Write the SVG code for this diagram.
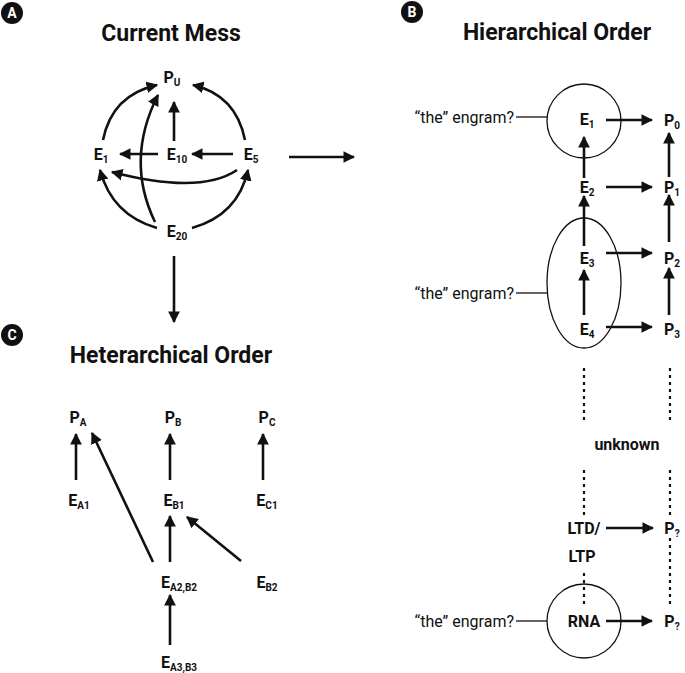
<svg xmlns="http://www.w3.org/2000/svg" width="685" height="673" viewBox="0 0 685 673">
<defs>
<marker id="ah" viewBox="0 0 10 10" refX="9" refY="5" markerWidth="4.5" markerHeight="4.5" orient="auto" markerUnits="strokeWidth"><path d="M0,0L10,5L0,10z" fill="#111"/></marker>
<style>
text{font-family:Roboto,"Liberation Sans",sans-serif;fill:#111}
.t{font-size:23px;font-weight:bold;text-anchor:middle}
.n{font-size:16px;font-weight:bold;text-anchor:middle}
.s{font-size:10px;font-weight:bold}
.l{font-size:16px;text-anchor:end}
.a{fill:none;stroke:#111;stroke-width:2.6;marker-end:url(#ah)}
.d{fill:none;stroke:#111;stroke-width:2.2;stroke-dasharray:3,4}
.c{fill:none;stroke:#111;stroke-width:1.3}
.b{fill:#111}
.bt{fill:#fff;font-size:14px;font-weight:bold;text-anchor:middle}
</style>
</defs>
<g id="badges">
<circle class="b" cx="12" cy="13" r="11"/><text class="bt" x="12" y="18">A</text>
<circle class="b" cx="412" cy="12" r="11"/><text class="bt" x="412" y="17">B</text>
<circle class="b" cx="12" cy="335" r="11"/><text class="bt" x="12" y="340">C</text>
</g>
<g id="titles">
<text class="t" x="171" y="41">Current Mess</text>
<text class="t" x="557" y="40">Hierarchical Order</text>
<text class="t" x="171" y="363">Heterarchical Order</text>
</g>
<g id="connectors">
<path class="a" d="M174,141L174,102"/>
<path class="a" d="M158,154L120,154"/>
<path class="a" d="M233,154L192,154"/>
<path class="a" d="M103,140Q112,95 157,85"/>
<path class="a" d="M245,140Q236,95 193,85"/>
<path class="a" d="M157,228Q112,215 100,170"/>
<path class="a" d="M192,228Q238,215 248,170"/>
<path class="a" d="M237,170Q200,195 112,172"/>
<path class="a" d="M155,222Q125,160 158,95"/>
<path class="a" d="M289,157L354,157"/>
<path class="a" d="M174,256L174,322"/>
<path class="a" d="M76,480L76,434"/>
<path class="a" d="M170,480L170,434"/>
<path class="a" d="M263,480L263,434"/>
<path class="a" d="M153,562L92,433"/>
<path class="a" d="M170,562L170,516"/>
<path class="a" d="M241,561L187,517"/>
<path class="a" d="M170,645L170,595"/>
<path class="a" d="M606,120L652,120"/>
<path class="a" d="M606,187L652,187"/>
<path class="a" d="M606,253L652,253"/>
<path class="a" d="M606,327L652,327"/>
<path class="a" d="M584,178L584,137"/>
<path class="a" d="M584,246L584,196"/>
<path class="a" d="M584,315L584,270"/>
<path class="a" d="M669,177L669,133"/>
<path class="a" d="M669,242L669,195"/>
<path class="a" d="M669,315L669,268"/>
<path class="d" d="M584,368L584,420"/>
<path class="d" d="M670,368L670,420"/>
<path class="d" d="M584,470L584,518"/>
<path class="d" d="M670,470L670,518"/>
<path class="a" d="M606,528L653,528"/>
<path class="d" d="M670,538L670,605"/>
<path class="d" d="M584,573L584,605"/>
<path class="a" d="M606,621L652,621"/>
<path class="c" d="M516,117L547,117"/>
<path class="c" d="M516,293L547,293"/>
<path class="c" d="M516,621L547,621"/>
</g>
<g id="panelA">
<g id="PU"><text class="n" x="172" y="83">P<tspan class="s" dy="3">U</tspan></text></g>
<g id="A_E1"><text class="n" x="101" y="160">E<tspan class="s" dy="3">1</tspan></text></g>
<g id="A_E10"><text class="n" x="177" y="160">E<tspan class="s" dy="3">10</tspan></text></g>
<g id="A_E5"><text class="n" x="251" y="160">E<tspan class="s" dy="3">5</tspan></text></g>
<g id="A_E20"><text class="n" x="177" y="237">E<tspan class="s" dy="3">20</tspan></text></g>
</g>
<g id="panelB">
<g id="ring1"><circle class="c" cx="584" cy="121" r="37"/><text class="l" x="514" y="123">“the” engram?</text></g>
<g id="ring2"><ellipse class="c" cx="584" cy="283" rx="37" ry="65"/><text class="l" x="514" y="299">“the” engram?</text></g>
<g id="ring3"><circle class="c" cx="584" cy="621" r="37"/><text class="l" x="514" y="627">“the” engram?</text></g>
<g id="B_E1"><text class="n" x="587" y="125">E<tspan class="s" dy="3">1</tspan></text></g>
<g id="B_E2"><text class="n" x="587" y="193">E<tspan class="s" dy="3">2</tspan></text></g>
<g id="B_E3"><text class="n" x="587" y="264">E<tspan class="s" dy="3">3</tspan></text></g>
<g id="B_E4"><text class="n" x="587" y="335">E<tspan class="s" dy="3">4</tspan></text></g>
<g id="B_P0"><text class="n" x="672" y="126">P<tspan class="s" dy="3">0</tspan></text></g>
<g id="B_P1"><text class="n" x="672" y="193">P<tspan class="s" dy="3">1</tspan></text></g>
<g id="B_P2"><text class="n" x="672" y="264">P<tspan class="s" dy="3">2</tspan></text></g>
<g id="B_P3"><text class="n" x="672" y="335">P<tspan class="s" dy="3">3</tspan></text></g>
<g id="unknown"><text class="n" x="627" y="450">unknown</text></g>
<g id="LTD"><text class="n" x="584" y="534">LTD/</text><text class="n" x="582" y="562">LTP</text></g>
<g id="B_Pq1"><text class="n" x="672" y="534">P<tspan class="s" dy="3">?</tspan></text></g>
<g id="RNA"><text class="n" x="584" y="627">RNA</text></g>
<g id="B_Pq2"><text class="n" x="672" y="627">P<tspan class="s" dy="3">?</tspan></text></g>
</g>
<g id="panelC">
<g id="PA"><text class="n" x="78" y="423">P<tspan class="s" dy="3">A</tspan></text></g>
<g id="PB"><text class="n" x="173" y="423">P<tspan class="s" dy="3">B</tspan></text></g>
<g id="PC"><text class="n" x="267" y="423">P<tspan class="s" dy="3">C</tspan></text></g>
<g id="EA1"><text class="n" x="79" y="506">E<tspan class="s" dy="3">A1</tspan></text></g>
<g id="EB1"><text class="n" x="174" y="506">E<tspan class="s" dy="3">B1</tspan></text></g>
<g id="EC1"><text class="n" x="267" y="506">E<tspan class="s" dy="3">C1</tspan></text></g>
<g id="EA2B2"><text class="n" x="179" y="588">E<tspan class="s" dy="3">A2,B2</tspan></text></g>
<g id="EB2"><text class="n" x="267" y="588">E<tspan class="s" dy="3">B2</tspan></text></g>
<g id="EA3B3"><text class="n" x="179" y="668">E<tspan class="s" dy="3">A3,B3</tspan></text></g>
</g>
</svg>
